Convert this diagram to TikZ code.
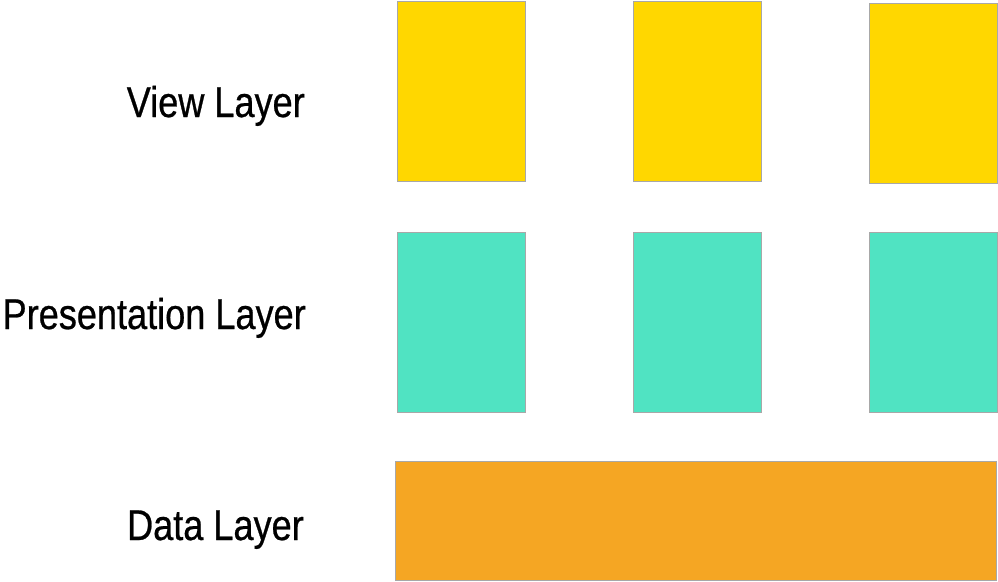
\documentclass[tikz,border=0pt]{standalone}
\usepackage{fontspec}
\setmainfont[FakeStretch=0.84, FakeBold=0.6]{Liberation Sans}
\usepackage{tikz}

\definecolor{viewcol}{HTML}{FFD700}
\definecolor{prescol}{HTML}{50E3C2}
\definecolor{datacol}{HTML}{F5A623}
\definecolor{edgecol}{HTML}{A8A8A8}

\begin{document}
\begin{tikzpicture}[x=1pt, y=-1pt, node distance={236pt},
    box/.style = {draw=edgecol, line width=0.8pt, inner sep=0pt, minimum width=128pt, minimum height=180pt},
    view/.style = {box, fill=viewcol},
    pres/.style = {box, fill=prescol},
    layer/.style = {anchor=base east, inner sep=0pt, font=\fontsize{43}{50}\selectfont}]
    \useasboundingbox (0,0) rectangle (998,581);

    \node[view] (v1) at (461,91) {};
    \node[view] (v2) [right of=v1] {};
    \node[view] (v3) [right of=v2, yshift=-2pt] {};

    \node[pres] (p1) at (461,322) {};
    \node[pres] (p2) [right of=p1] {};
    \node[pres] (p3) [right of=p2] {};

    \node[box, fill=datacol, minimum width=601pt, minimum height=119pt] (d) at (695.5,520.5) {};

    \node[layer] (lv) at (305,117) {View Layer};
    \node[layer] (lp) at (306,329) {Presentation Layer};
    \node[layer] (ld) at (304,540) {Data Layer};
\end{tikzpicture}
\end{document}
